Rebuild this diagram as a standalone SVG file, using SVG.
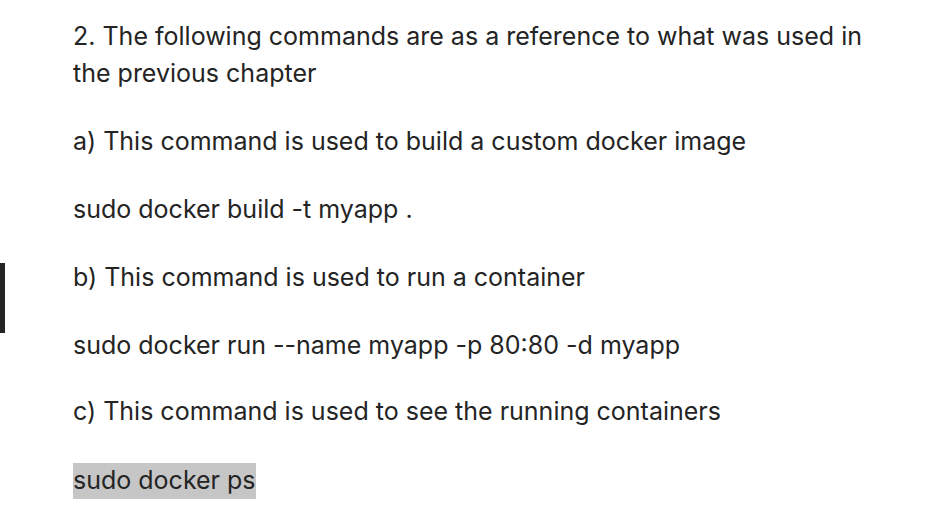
<svg xmlns="http://www.w3.org/2000/svg" width="946" height="528" viewBox="0 0 946 528">
<style>text{font-family:Inter,"Liberation Sans",sans-serif;font-size:25px;fill:#242424}</style>
<rect width="946" height="528" fill="#fff"/>
<rect x="0" y="263" width="5" height="70" fill="#242424"/>
<rect x="73" y="463" width="183" height="36" fill="#c6c6c6"/>
<text x="73" y="45">2. The following commands are as a reference to what was used in</text>
<text x="73" y="82">the previous chapter</text>
<text x="73" y="150">a) This command is used to build a custom docker image</text>
<text x="73" y="218">sudo docker build -t myapp .</text>
<text x="73" y="286">b) This command is used to run a container</text>
<text x="73" y="354">sudo docker run --name myapp -p 80:80 -d myapp</text>
<text x="73" y="420">c) This command is used to see the running containers</text>
<text x="73" y="489">sudo docker ps</text>
</svg>
